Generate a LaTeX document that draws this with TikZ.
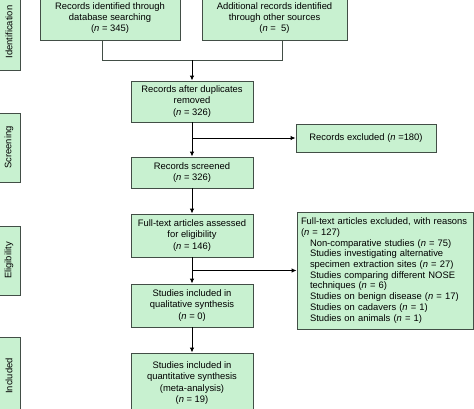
\documentclass[tikz,border=0pt]{standalone}
\usepackage{fontspec}
\setmainfont{Liberation Sans}
\usetikzlibrary{arrows.meta}
\definecolor{boxgreen}{RGB}{200,241,208}
\definecolor{boxedge}{RGB}{66,78,70}
\tikzset{
  flowbox/.style={draw=boxedge, fill=boxgreen, align=center, inner sep=2pt,
    font=\fontsize{9.4}{11.3}\selectfont},
  stagebox/.style={flowbox, rotate=90, minimum height=22pt},
}

\begin{document}
\begin{tikzpicture}[x=1pt,y=-1pt,line width=0.9pt,>={Latex[length=5pt,width=4.5pt]}]
\useasboundingbox (0,0) rectangle (474,408);

% stages on the left
\node[stagebox, minimum width=76pt] (ident) at (9,32) {Identification};
\node[stagebox, minimum width=69pt] (screen) at (9,147.5) {Screening};
\node[stagebox, minimum width=69pt] (elig) at (9,260.5) {Eligibility};
\node[stagebox, minimum width=78pt] (incl) at (9,376) {Included};

% main column
\node[flowbox, minimum width=140pt, minimum height=44pt] (dbsearch) at (110,18)
  {Records identified through\\database searching\\(\textit{n} = 345)};
\node[flowbox, minimum width=145pt, minimum height=44pt] (othersrc) at (274.5,18)
  {Additional records identified\\through other sources\\(\textit{n} =\ \ 5)};
\node[flowbox, minimum width=122pt, minimum height=41pt] (dedup) at (192,101.5)
  {Records after duplicates\\removed\\(\textit{n} = 326)};
\node[flowbox, minimum width=122pt, minimum height=31pt] (screened) at (192,172.5)
  {Records screened\\(\textit{n} = 326)};
\node[flowbox, minimum width=122pt, minimum height=43pt] (assessed) at (192,235.5)
  {Full-text articles assessed\\for eligibility\\(\textit{n} = 146)};
\node[flowbox, minimum width=122pt, minimum height=43pt] (qualit) at (192,305.5)
  {Studies included in\\qualitative synthesis\\(\textit{n} = 0)};
\node[flowbox, minimum width=122pt, minimum height=60pt] (quantit) at (192,383)
  {Studies included in\\quantitative synthesis\\(meta-analysis)\\(\textit{n} = 19)};

% exclusions
\node[flowbox, minimum width=140pt, minimum height=28pt] (excluded) at (366,138)
  {Records excluded (\textit{n} =180)};
\node[flowbox, align=left, text width=168pt, inner xsep=4pt, minimum height=117pt,
  font=\fontsize{9.4}{10.7}\selectfont] (reasons) at (385,270.5)
  {Full-text articles excluded, with reasons\\
   (\textit{n} = 127)\\
   \hspace*{9pt}Non-comparative studies (\textit{n} = 75)\\
   \hspace*{9pt}Studies investigating alternative\\
   \hspace*{9pt}specimen extraction sites (\textit{n} = 27)\\
   \hspace*{9pt}Studies comparing different NOSE\\
   \hspace*{9pt}techniques (\textit{n} = 6)\\
   \hspace*{9pt}Studies on benign disease (\textit{n} = 17)\\
   \hspace*{9pt}Studies on cadavers (\textit{n} = 1)\\
   \hspace*{9pt}Studies on animals (\textit{n} = 1)};

% connectors
\coordinate (merge) at (192,60);
\draw[boxedge] ([xshift=-8pt]dbsearch.south) |- (merge);
\draw[boxedge] ([xshift=7.5pt]othersrc.south) |- (merge);
\draw[->] (merge) -- (dedup);
\draw[->] (dedup) -- (screened);
\draw[->] (dedup.south |- excluded.west) -- (excluded);
\draw[->] (screened) -- (assessed);
\draw[->] (assessed) -- (qualit);
\draw[->] (qualit.north |- reasons.west) -- (reasons);
\draw[->] (qualit) -- (quantit);
\end{tikzpicture}
\end{document}
